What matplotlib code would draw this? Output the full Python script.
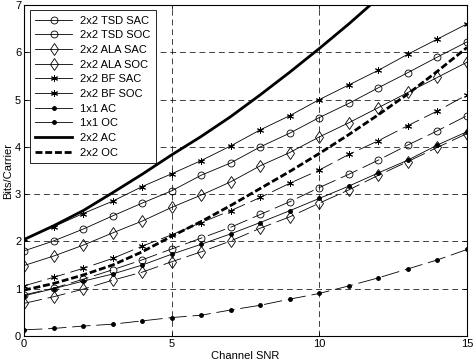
import matplotlib
matplotlib.use("Agg")
import matplotlib.pyplot as plt
from matplotlib.lines import Line2D
import numpy as np

plt.rcParams["font.family"] = ["Liberation Sans", "DejaVu Sans"]

# channel SNR points (one marker per dB)
snr = np.arange(0, 16)

# values
tsd_sac = [1.80, 2.01, 2.26, 2.54, 2.81, 3.07, 3.40, 3.66, 4.00, 4.29, 4.62, 4.92, 5.25, 5.57, 5.90, 6.22]
tsd_soc = [0.87, 1.01, 1.20, 1.40, 1.61, 1.84, 2.07, 2.30, 2.57, 2.84, 3.14, 3.42, 3.72, 4.04, 4.34, 4.66]
ala_sac = [1.49, 1.69, 1.92, 2.18, 2.43, 2.72, 2.98, 3.26, 3.60, 3.88, 4.21, 4.51, 4.83, 5.15, 5.47, 5.79]
ala_soc = [0.69, 0.83, 0.99, 1.18, 1.35, 1.57, 1.78, 2.01, 2.28, 2.52, 2.81, 3.09, 3.40, 3.69, 3.99, 4.28]
bf_sac = [2.05, 2.31, 2.59, 2.85, 3.16, 3.43, 3.71, 4.02, 4.36, 4.66, 5.00, 5.31, 5.62, 5.96, 6.28, 6.60]
bf_soc = [1.06, 1.24, 1.43, 1.64, 1.90, 2.14, 2.40, 2.65, 2.93, 3.23, 3.51, 3.84, 4.13, 4.45, 4.76, 5.10]
ac_1x1 = [0.85, 1.00, 1.16, 1.31, 1.50, 1.73, 1.94, 2.16, 2.40, 2.65, 2.91, 3.17, 3.45, 3.72, 4.04, 4.32]
oc_1x1 = [0.13, 0.16, 0.21, 0.25, 0.32, 0.39, 0.44, 0.55, 0.65, 0.78, 0.90, 1.06, 1.23, 1.42, 1.61, 1.83]
snr_ac = np.arange(0, 13)
ac_2x2 = [2.04, 2.33, 2.65, 3.03, 3.42, 3.83, 4.22, 4.64, 5.10, 5.58, 6.08, 6.60, 7.15]
oc_2x2 = [0.97, 1.11, 1.29, 1.50, 1.78, 2.11, 2.42, 2.76, 3.12, 3.48, 3.86, 4.26, 4.68, 5.12, 5.60, 6.10]

labels = ["2x2 TSD SAC", "2x2 TSD SOC", "2x2 ALA SAC", "2x2 ALA SOC",
          "2x2 BF SAC", "2x2 BF SOC", "1x1 AC", "1x1 OC", "2x2 AC", "2x2 OC"]

fig = plt.figure(figsize=(4.74, 3.62), dpi=100)
ax = fig.add_axes([0.0506, 0.0718, 0.9346, 0.9144])

dash = (0, (22, 7))
star = (6, 2, 0)
thin = dict(color="black", lw=0.6)
circ = dict(marker="o", ms=5, mfc="none", mec="black", mew=0.6)
diam = dict(marker="d", ms=6, mfc="none", mec="black", mew=0.6)
ast = dict(marker=star, ms=5, mec="black", mew=0.7)
dot = dict(marker=".", ms=5)

ax.plot(snr, tsd_sac, **circ, **thin)
ax.plot(snr, tsd_soc, ls=dash, **circ, **thin)
ax.plot(snr, ala_sac, **diam, **thin)
ax.plot(snr, ala_soc, ls=dash, **diam, **thin)
ax.plot(snr, bf_sac, **ast, **thin)
ax.plot(snr, bf_soc, ls=dash, **ast, **thin)
ax.plot(snr, ac_1x1, **dot, **thin)
ax.plot(snr, oc_1x1, ls=dash, **dot, **thin)
ax.plot(snr_ac, ac_2x2, color="black", lw=2.0)
ax.plot(snr, oc_2x2, color="black", lw=2.0, ls=(0, (2.5, 1)))

# legend entries drawn solid, as in the reference
handles = [
    Line2D([], [], **circ, **thin),
    Line2D([], [], **circ, **thin),
    Line2D([], [], **diam, **thin),
    Line2D([], [], **diam, **thin),
    Line2D([], [], **ast, **thin),
    Line2D([], [], **ast, **thin),
    Line2D([], [], **dot, **thin),
    Line2D([], [], **dot, **thin),
    Line2D([], [], color="black", lw=2.0),
    Line2D([], [], color="black", lw=2.0, ls=(0, (2.5, 1))),
]
leg = ax.legend(handles, labels, loc="upper left", bbox_to_anchor=(0.013, 0.985),
                fontsize=8, handlelength=3.3, handletextpad=0.7,
                labelspacing=0.42, borderpad=0.5, borderaxespad=0.0,
                fancybox=False, framealpha=1, edgecolor="black")
leg.get_frame().set_linewidth(0.6)

ax.set_xlim(0, 15)
ax.set_ylim(0, 7)
ax.set_xticks([0, 5, 10, 15])
ax.set_yticks(range(8))
ax.tick_params(direction="in", length=3, width=0.6, labelsize=8, pad=2,
               top=True, right=True)
for s in ax.spines.values():
    s.set_linewidth(0.8)
ax.grid(True, color="black", ls=(0, (6, 4)), lw=0.7, alpha=0.75)

ax.set_xlabel("Channel SNR", fontsize=8, labelpad=1.5)
ax.set_ylabel("Bits/Carrier", fontsize=8, labelpad=1)

fig.savefig("out.png", dpi=100)
